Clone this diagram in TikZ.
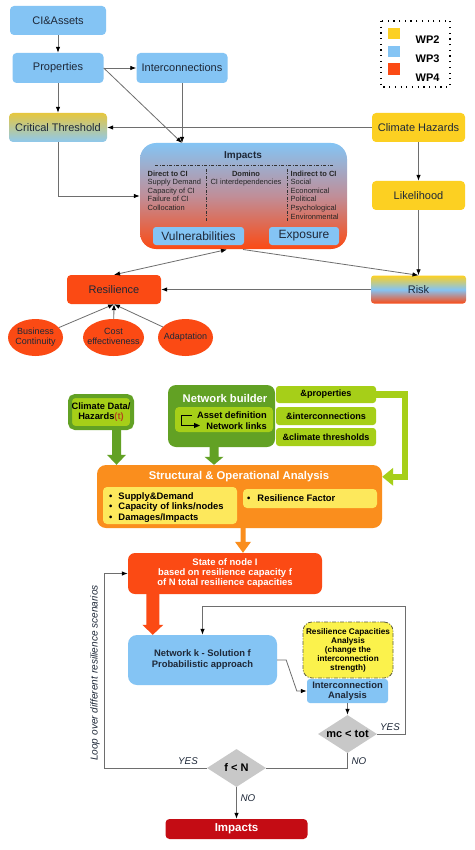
\documentclass[tikz,border=0pt]{standalone}
\usepackage{fontspec}
\setmainfont{Liberation Sans}
\usetikzlibrary{arrows.meta,calc,shapes.geometric}
\definecolor{lb}{HTML}{84C4F4}
\definecolor{yy}{HTML}{FCD022}
\definecolor{rr}{HTML}{FB4A14}
\definecolor{ctop}{HTML}{E6C73E}
\definecolor{cbot}{HTML}{8EC8EE}
\definecolor{txt}{HTML}{1E2838}
\definecolor{lgray}{HTML}{6E6E6E}
\definecolor{dkg}{HTML}{62A124}
\definecolor{ltg}{HTML}{A6CF18}
\definecolor{org}{HTML}{FA8E1D}
\definecolor{ylw}{HTML}{FDE85C}
\definecolor{ylw2}{HTML}{FBF24C}
\definecolor{dgray}{HTML}{C8C8C8}
\definecolor{drd}{HTML}{C40C14}
\definecolor{brn}{HTML}{B5471B}
\definecolor{mauve}{HTML}{C08E98}
\definecolor{olv}{HTML}{5F5F3F}
\newcommand\fatarrow[6]{\fill[#1] let \p1=(#2), \p2=(#3) in (\x1-#4,\y1) -- (\x1-#4,\y2+#6) -- (\x1-#5,\y2+#6) -- (\x1,\y2) -- (\x1+#5,\y2+#6) -- (\x1+#4,\y2+#6) -- (\x1+#4,\y1) -- cycle;}
\begin{document}
\begin{tikzpicture}[x=1pt,y=-1pt,
 box/.style={rounded corners=4pt, inner sep=0pt, align=center, text=txt},
 conn/.style={draw=lgray, line width=0.8pt, -{Latex[length=6pt,width=4.5pt,color=black]}},
 bconn/.style={draw=lgray, line width=0.8pt, {Latex[length=6pt,width=4.5pt,color=black]}-{Latex[length=6pt,width=4.5pt,color=black]}},
 plainline/.style={draw=lgray, line width=0.8pt},
 f11/.style={font=\fontsize{11}{13}\selectfont},
 dd/.style={draw=black!80, line width=0.9pt, dash pattern=on 3pt off 1.5pt on 1pt off 1.5pt},
 lab/.style={font=\itshape\fontsize{9.8}{12}\selectfont, text=txt, inner sep=0pt},
 ell/.style={ellipse, fill=rr, minimum width=55pt, minimum height=37pt, inner sep=0pt, text=txt},
 dia/.style={diamond, fill=dgray, minimum width=59pt, minimum height=38pt, inner sep=0pt, aspect=1, text=black}
]
\useasboundingbox (0,0) rectangle (474,850);
\fill[white] (0,0) rectangle (474,850);

% ---------- legend
\draw[dash pattern=on 1.2pt off 4.5pt, line width=1.1pt] (381,21) rectangle (450,87);
\node[fill=yy, minimum size=11.5pt, inner sep=0pt] (l2) at (394,33.5) {};
\node[fill=lb, minimum size=11.5pt, inner sep=0pt] (l3) at (394,51.5) {};
\node[fill=rr, minimum size=11.5pt, inner sep=0pt] (l4) at (394,69) {};
\node[anchor=west, inner sep=0pt, font=\bfseries\fontsize{11}{13}\selectfont] (t2) at (415.5,40) {WP2};
\node[anchor=west, inner sep=0pt, font=\bfseries\fontsize{11}{13}\selectfont] (t3) at (415.5,59) {WP3};
\node[anchor=west, inner sep=0pt, font=\bfseries\fontsize{11}{13}\selectfont] (t4) at (415.5,78) {WP4};

% ---------- top section nodes
\node[box, fill=lb, minimum width=96pt, minimum height=29pt, f11] (cia) at (58,20.5) {CI\&Assets};
\node[box, fill=lb, minimum width=91pt, minimum height=30pt, f11] (prop) at (58,68) {Properties};
\node[box, fill=lb, minimum width=91pt, minimum height=30pt, f11] (inter) at (182,68) {Interconnections};
\node[box, top color=ctop, bottom color=cbot, minimum width=98pt, minimum height=29pt, f11] (ct) at (58,127.5) {Critical Threshold};
\node[box, fill=yy, minimum width=93pt, minimum height=29pt, f11] (ch) at (418.5,127.5) {Climate Hazards};
\node[box, fill=yy, minimum width=93pt, minimum height=29pt, f11] (lik) at (418.5,195.5) {Likelihood};
\node[box, rounded corners=3pt, top color=yy, bottom color=rr, middle color=lb, minimum width=95pt, minimum height=28pt, f11] (risk) at (418.5,289.5) {Risk};
\node[box, top color=lb, bottom color=rr, middle color=mauve, rounded corners=16pt, minimum width=207pt, minimum height=106pt] (imp) at (243.5,196) {};
\node[inner sep=0pt, font=\bfseries\fontsize{10}{12}\selectfont, text=txt] (ititle) at (243,156.5) {Impacts};
\draw[dd] (155,165) -- (333,165);
\draw[dd] (206,169) -- (206,222);
\draw[dd] (287,169) -- (287,222);
\node[anchor=north west, inner sep=0pt, align=left, text=black!85, font=\fontsize{7.5}{8.6}\selectfont] (dci) at (147.5,170.5) {\textbf{Direct to CI}\\Supply Demand\\Capacity of CI\\Failure of CI\\Collocation};
\node[anchor=north, inner sep=0pt, align=center, text=black!85, font=\fontsize{7.5}{8.6}\selectfont] (dom) at (246,170.5) {\textbf{Domino}\\CI interdependencies};
\node[anchor=north west, inner sep=0pt, align=left, text=black!85, font=\fontsize{7.5}{8.6}\selectfont] (ind) at (290.5,170.5) {\textbf{Indirect to CI}\\Social\\Economical\\Political\\Psychological\\Environmental};
\node[box, fill=lb, rounded corners=3pt, minimum width=91pt, minimum height=18pt, font=\fontsize{12}{14}\selectfont] (vul) at (198.5,236) {Vulnerabilities};
\node[box, fill=lb, rounded corners=3pt, minimum width=70pt, minimum height=18pt, font=\fontsize{12}{14}\selectfont] (exp) at (304,236) {Exposure};
\node[box, fill=rr, minimum width=94pt, minimum height=29pt, f11] (res) at (114,289.5) {Resilience};
\node[ell] (bc) at (35.5,337.5) {\makebox[0pt]{\fontsize{9}{10}\selectfont\begin{tabular}{@{}c@{}}Business\\Continuity\end{tabular}}};
\node[ell, minimum width=61pt] (cost) at (113.5,337.5) {\makebox[0pt]{\fontsize{9}{10}\selectfont\begin{tabular}{@{}c@{}}Cost\\effectiveness\end{tabular}}};
\node[ell] (ada) at (185.5,337.5) {\makebox[0pt]{\fontsize{9}{10}\selectfont Adaptation}};

% ---------- top section connectors
\coordinate (itop) at (182,143);
\coordinate (ibr) at (243,249.5);
\coordinate (ibl) at (227,249.5);
\draw[conn] (cia) -- (prop);
\draw[conn] (prop) -- (inter);
\draw[conn] (prop) -- (ct);
\draw[conn] (prop.east) -- (itop);
\draw[conn] (inter) -- (itop);
\draw[conn] (ch) -- (ct);
\draw[conn] (ct.south) |- (imp.west);
\draw[conn] (ch) -- (lik);
\draw[conn] (lik) -- (risk.north);
\draw[conn] (ibr) -- (risk.north);
\draw[bconn] (res.north) -- (ibl);
\draw[conn] (risk) -- (res);
\draw[conn] (bc) -- (res.south);
\draw[conn] (cost) -- (res.south);
\draw[conn] (ada) -- (res.south);

% ---------- lower section nodes
\node[box, fill=ltg, draw=dkg, line width=4pt, rounded corners=5pt, minimum width=62pt, minimum height=32pt, text=black, font=\bfseries\fontsize{9.3}{10}\selectfont] (cd) at (101,412) {Climate Data/\\Hazards{\color{brn}(t)}};
\node[box, fill=dkg, rounded corners=8pt, minimum width=107pt, minimum height=62pt] (nb) at (221.5,416) {};
\node[inner sep=0pt, text=white, font=\bfseries\fontsize{11.2}{13}\selectfont] (nbt) at (225,398) {Network builder};
\node[box, fill=ltg, rounded corners=4pt, minimum width=98pt, minimum height=25pt] (nbi) at (224,419.5) {};
\node[anchor=east, align=right, inner sep=0pt, text=black, font=\bfseries\fontsize{9.3}{10.5}\selectfont] (nbtx) at (267,420.5) {Asset definition\\Network links};
\draw[line width=1pt, -{Triangle[length=6pt,width=5pt]}] (191.5,415) -- (181.5,415) -- (181.5,425.5) -- (200,425.5);
\node[box, fill=ltg, rounded corners=3pt, minimum width=100pt, minimum height=17pt, text=black, font=\bfseries\fontsize{9.1}{11}\selectfont] (ap) at (326,394.5) {\&properties};
\node[box, fill=ltg, rounded corners=3pt, minimum width=100pt, minimum height=18pt, text=black, font=\bfseries\fontsize{9.1}{11}\selectfont] (ai) at (326,416) {\&interconnections};
\node[box, fill=ltg, rounded corners=3pt, minimum width=100pt, minimum height=18pt, text=black, font=\bfseries\fontsize{9.1}{11}\selectfont] (act) at (326,437) {\&climate thresholds};

\node[box, fill=org, rounded corners=9pt, minimum width=285pt, minimum height=63pt] (sa) at (239.5,496.5) {};
\node[inner sep=0pt, text=white, font=\bfseries\fontsize{11.3}{13}\selectfont] (sat) at (239,477) {Structural \& Operational Analysis};
\node[box, fill=ylw, rounded corners=4pt, minimum width=134pt, minimum height=37pt] (sal) at (170,505.5) {};
\node[anchor=west, align=left, inner sep=0pt, text=black, font=\bfseries\fontsize{9.4}{10.5}\selectfont] (saltx) at (109,507.5) {\textbullet\hspace{6pt}Supply\&Demand\\\textbullet\hspace{6pt}Capacity of links/nodes\\\textbullet\hspace{6pt}Damages/Impacts};
\node[box, fill=ylw, rounded corners=4pt, minimum width=134pt, minimum height=19pt] (sar) at (310,498.5) {};
\node[anchor=west, inner sep=0pt, text=black, font=\bfseries\fontsize{9.4}{10.5}\selectfont] (sartx) at (247,498.5) {\textbullet\hspace{7pt}Resilience Factor};

\node[box, fill=rr, rounded corners=7pt, minimum width=194pt, minimum height=41pt, text=white, font=\bfseries\fontsize{9.45}{10}\selectfont] (st) at (225,573.5) {State of node I\\based on resilience capacity f\\of N total resilience capacities};
\node[box, fill=lb, rounded corners=9pt, minimum width=149pt, minimum height=50pt, font=\bfseries\fontsize{9.4}{11}\selectfont] (nk) at (202.5,660) {Network k - Solution f\\Probabilistic approach};
\node[box, fill=ylw2, draw=olv, dash pattern=on 4pt off 1.5pt on 1pt off 1.5pt, line width=0.8pt, rounded corners=9pt, minimum width=90pt, minimum height=56pt, text=black, font=\bfseries\fontsize{8.2}{9}\selectfont] (rca) at (348,650) {Resilience Capacities\\Analysis\\(change the\\interconnection\\strength)};
\node[box, fill=lb, rounded corners=3pt, minimum width=81pt, minimum height=24pt, font=\bfseries\fontsize{9.4}{10}\selectfont] (ia) at (347.5,691) {Interconnection\\Analysis};
\node[dia] (mc) at (347.5,734) {\makebox[0pt]{\bfseries\fontsize{11}{13}\selectfont mc < tot}};
\node[dia] (fn) at (236.5,768) {\makebox[0pt]{\bfseries\fontsize{11}{13}\selectfont f < N}};
\node[box, fill=drd, rounded corners=4pt, minimum width=142pt, minimum height=20pt, text=white, font=\bfseries\fontsize{11.5}{13}\selectfont] (fi) at (236.5,829) {Impacts};

% ---------- fat arrows
\coordinate (cda) at ($(cd.south)+(15.5,0)$);
\fatarrow{dkg}{cda}{sa.north}{4.5pt}{9.5pt}{10pt}
\coordinate (nba) at ($(nb.south)+(-7.5,0)$);
\fatarrow{dkg}{nba}{sa.north}{4.5pt}{9.5pt}{8pt}
\coordinate (gtip) at ($(sa.north east)+(0,12)$);
\coordinate (gcorner) at ($(ap.east)+(29,0)$);
\draw[ltg, line width=6.5pt, line join=miter] (ap.east) -- (gcorner) |- ($(gtip)+(11,0)$);
\fill[ltg] ($(gtip)+(11,-9)$) -- (gtip) -- ($(gtip)+(11,9)$) -- cycle;
\coordinate (saa) at ($(sa.south)+(3.5,0)$);
\fatarrow{org}{saa}{st.north}{2.5pt}{8pt}{11pt}
\coordinate (sta) at ($(st.south west)+(25,0)$);
\fatarrow{rr}{sta}{nk.north}{6.5pt}{10.5pt}{10pt}

% ---------- lower connectors
\coordinate (loopx) at (104,700);
\coordinate (yr) at (405,606);
\draw[conn] (fn.west) -- (fn.west -| loopx) |- (st.west);
\draw[conn] (mc.east) -| (yr) -| (nk.north);
\draw[plainline] (mc.south) |- (fn.east);
\draw[conn] (fn.south) -- (fi.north);
\draw[conn] (ia.south) -- (mc.north);
\draw[conn] (nk.east) -- ++(9,0) -- ($(ia.west)+(-10,0)$) -- (ia.west);

\node[lab] (y1) at (390,727) {YES};
\node[lab] (n1) at (359,761) {NO};
\node[lab] (y2) at (188,761) {YES};
\node[lab] (n2) at (248,798) {NO};
\node[rotate=90, inner sep=0pt, text=txt, font=\itshape\fontsize{10.1}{12}\selectfont] (loop) at (95,673) {Loop over different resilience scenarios};
\end{tikzpicture}
\end{document}
